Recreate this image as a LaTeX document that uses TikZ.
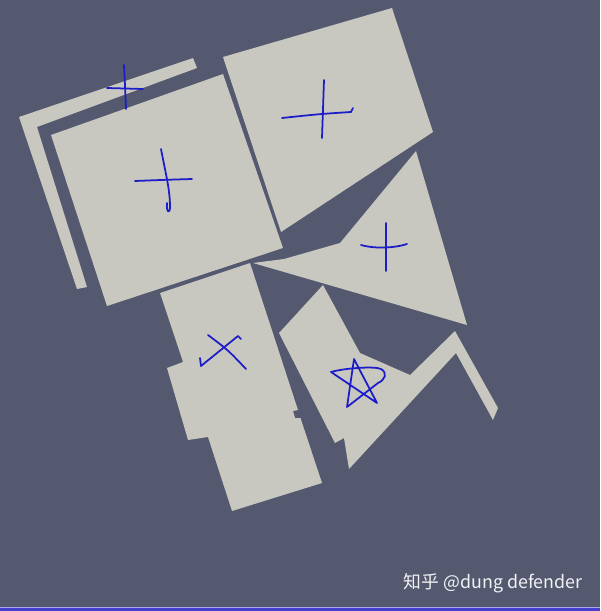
\documentclass[tikz,border=0pt]{standalone}
\usepackage{fontspec}
\newfontfamily\cjkfont{Noto Sans CJK SC}
\definecolor{slate}{RGB}{84,89,111}
\definecolor{slab}{RGB}{201,200,192}
\definecolor{inkblue}{RGB}{28,28,200}
\definecolor{barlight}{RGB}{170,170,235}
\definecolor{barblue}{RGB}{72,62,205}
\begin{document}
\begin{tikzpicture}[x=0.02cm,y=-0.02cm,
    piece/.style={fill=slab,draw=none},
    ink/.style={draw=inkblue,line width=1pt,
                line cap=round,line join=round}]
  \useasboundingbox (0,0) rectangle (600,611);
  \fill[slate] (0,0) rectangle (600,611);
  % pieces
  \fill[piece] (19,117) -- (193,58) -- (197,68)
     -- (37,127) -- (87,287) -- (77,289) -- cycle;
  \fill[piece] (51,135) -- (223,74) -- (283,248)
     -- (107,306) -- cycle;
  \fill[piece] (223,57) -- (392,8) -- (433,132)
     -- (281,232) -- cycle;
  \fill[piece] (416,151) -- (467,325) -- (253,263)
     -- (284,259) -- (340,243) -- cycle;
  \fill[piece] (160,293) -- (250,263) -- (298,410)
     -- (293,411) -- (295,418) -- (300.5,418)
     -- (322,483) -- (232,511) -- (208,437)
     -- (188,440) -- (167,368) -- (183,362) -- cycle;
  \fill[piece] (323,285) -- (360,353) -- (410,375)
     -- (455,331) -- (498,408) -- (493,420)
     -- (456,353) -- (349,469) -- (344,438)
     -- (335,443) -- (279,333) -- cycle;
  % marks
  \draw[ink] (124,65) .. controls (125,85) .. (126,109);
  \draw[ink] (107,88) -- (143,89);
  \draw[ink] (135,181) .. controls (160,180) .. (192,179);
  \draw[ink] (161,149) .. controls (166,175) and (170,190) .. (170,207)
     .. controls (170,214) and (166,213) .. (167,203);
  \draw[ink] (324,80) -- (322,138);
  \draw[ink] (282,118) .. controls (320,114) .. (351,112)
     -- (353,108);
  \draw[ink] (386,223) -- (386,271);
  \draw[ink] (361,245) .. controls (375,249) and (395,248) .. (407,244);
  \draw[ink] (208,335) .. controls (228,350) .. (246,369);
  \draw[ink] (241,339) -- (238,336) -- (201,366) -- (200,358);
  \draw[ink] (347,407) -- (354,359) -- (377,403) -- (331,372)
     .. controls (345,368) and (375,366) .. (381,369)
     .. controls (388,373) and (385,380) .. (378,383) -- cycle;
  % footer
  \node[text=white!92!slate,font=\cjkfont\fontsize{10.15}{12}\selectfont]
    (mark) at (493,583) {知乎 @dung defender};
  \fill[barlight] (0,606.5) rectangle (600,608);
  \fill[barblue] (0,608) rectangle (600,611);
\end{tikzpicture}
\end{document}
